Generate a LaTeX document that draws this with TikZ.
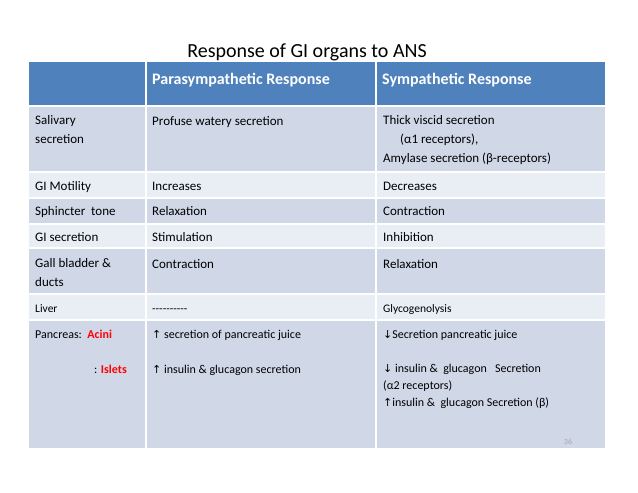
\documentclass[tikz,border=0pt]{standalone}
\usepackage{fontspec}
\setmainfont{Carlito}
\newfontfamily\dv{DejaVu Sans}
\begin{document}
\begin{tikzpicture}[x=1pt,y=-1pt,
  txt/.style={anchor=base west,inner sep=0pt,font=\fontsize{13}{19}\selectfont,align=left},
  ml/.style={anchor=north west,inner sep=0pt,font=\fontsize{13}{19}\selectfont,align=left},
  hd/.style={anchor=base west,inner sep=0pt,font=\fontsize{16}{18}\selectfont\bfseries,text=white},
  sep/.style={white,line width=1.5pt}]
\useasboundingbox (0,0) rectangle (638,493);
\fill[white] (0,0) rectangle (638,493);
\definecolor{hdr}{HTML}{4F81BD}
\definecolor{dk}{HTML}{D0D8E8}
\definecolor{lt}{HTML}{E9EDF4}
\node[anchor=base,inner sep=0pt,font=\fontsize{20}{22}\selectfont] (title) at (307,57) {Response of GI organs to ANS};
\fill[hdr] (29,62) rectangle (605,106);
\fill[dk] (29,106) rectangle (605,172);
\fill[lt] (29,172) rectangle (605,198);
\fill[dk] (29,198) rectangle (605,224);
\fill[lt] (29,224) rectangle (605,248);
\fill[dk] (29,248) rectangle (605,294);
\fill[lt] (29,294) rectangle (605,320);
\fill[dk] (29,320) rectangle (605,448);
\foreach \y in {106,172,198,224,248,294,320} \draw[sep] (29,\y) -- (605,\y);
\foreach \x in {146,376} \draw[sep] (\x,62) -- (\x,448);
\node[hd] (h1) at (152,84) {Parasympathetic Response};
\node[hd] (h2) at (382,84) {Sympathetic Response};
\node[ml] (a1) at (35,115) {Salivary\\secretion};
\node[txt] (a2) at (152,125) {Profuse watery secretion};
\node[ml] (a3) at (383,115) {Thick viscid secretion\\\hspace{17pt}(α1 receptors),\\Amylase secretion (β-receptors)};
\node[txt] (b1) at (35,190) {GI Motility};
\node[txt] (b2) at (152,190) {Increases};
\node[txt] (b3) at (383,190) {Decreases};
\node[txt] (c1) at (35,215) {Sphincter\ \ tone};
\node[txt] (c2) at (152,215) {Relaxation};
\node[txt] (c3) at (383,215) {Contraction};
\node[txt] (d1) at (35,241) {GI secretion};
\node[txt] (d2) at (152,241) {Stimulation};
\node[txt] (d3) at (383,241) {Inhibition};
\node[ml] (e1) at (35,258) {Gall bladder \&\\ducts};
\node[txt] (e2) at (152,268) {Contraction};
\node[txt] (e3) at (383,268) {Relaxation};
\node[txt,font=\fontsize{11.5}{14}\selectfont] (f1) at (35,312) {Liver};
\node[txt,font=\fontsize{11.5}{14}\selectfont] (f2) at (152,312) {-{}-{}-{}-{}-{}-{}-{}-{}-{}-};
\node[txt,font=\fontsize{11.5}{14}\selectfont] (f3) at (383,312) {Glycogenolysis};
\node[txt,font=\fontsize{12}{14}\selectfont] (g1) at (35,338) {Pancreas:\ \ \textcolor{red}{\bfseries Acini}};
\node[txt,anchor=base east,font=\fontsize{12}{14}\selectfont] (g1b) at (127,373) {: \textcolor{red}{\bfseries Islets}};
\node[txt,font=\fontsize{12}{14}\selectfont] (g2) at (152,338) {{\dv\fontsize{11}{14}\selectfont↑} secretion of pancreatic juice};
\node[txt,font=\fontsize{12}{14}\selectfont] (g2b) at (152,373) {{\dv\fontsize{11}{14}\selectfont↑} insulin \& glucagon secretion};
\node[txt,font=\fontsize{12}{14}\selectfont] (g3) at (383,338) {{\dv\fontsize{11}{14}\selectfont↓}Secretion pancreatic juice};
\node[ml,font=\fontsize{12}{17}\selectfont] (g3b) at (383,364) {{\dv\fontsize{11}{14}\selectfont↓} insulin \&\ \ glucagon\ \ \ Secretion\\(α2 receptors)\\{\dv\fontsize{11}{14}\selectfont↑}insulin \&\ \ glucagon Secretion (β)};
\node[anchor=base,inner sep=0pt,font=\fontsize{8}{9}\selectfont,text=gray!70] (pg) at (568,444) {36};
\end{tikzpicture}
\end{document}
